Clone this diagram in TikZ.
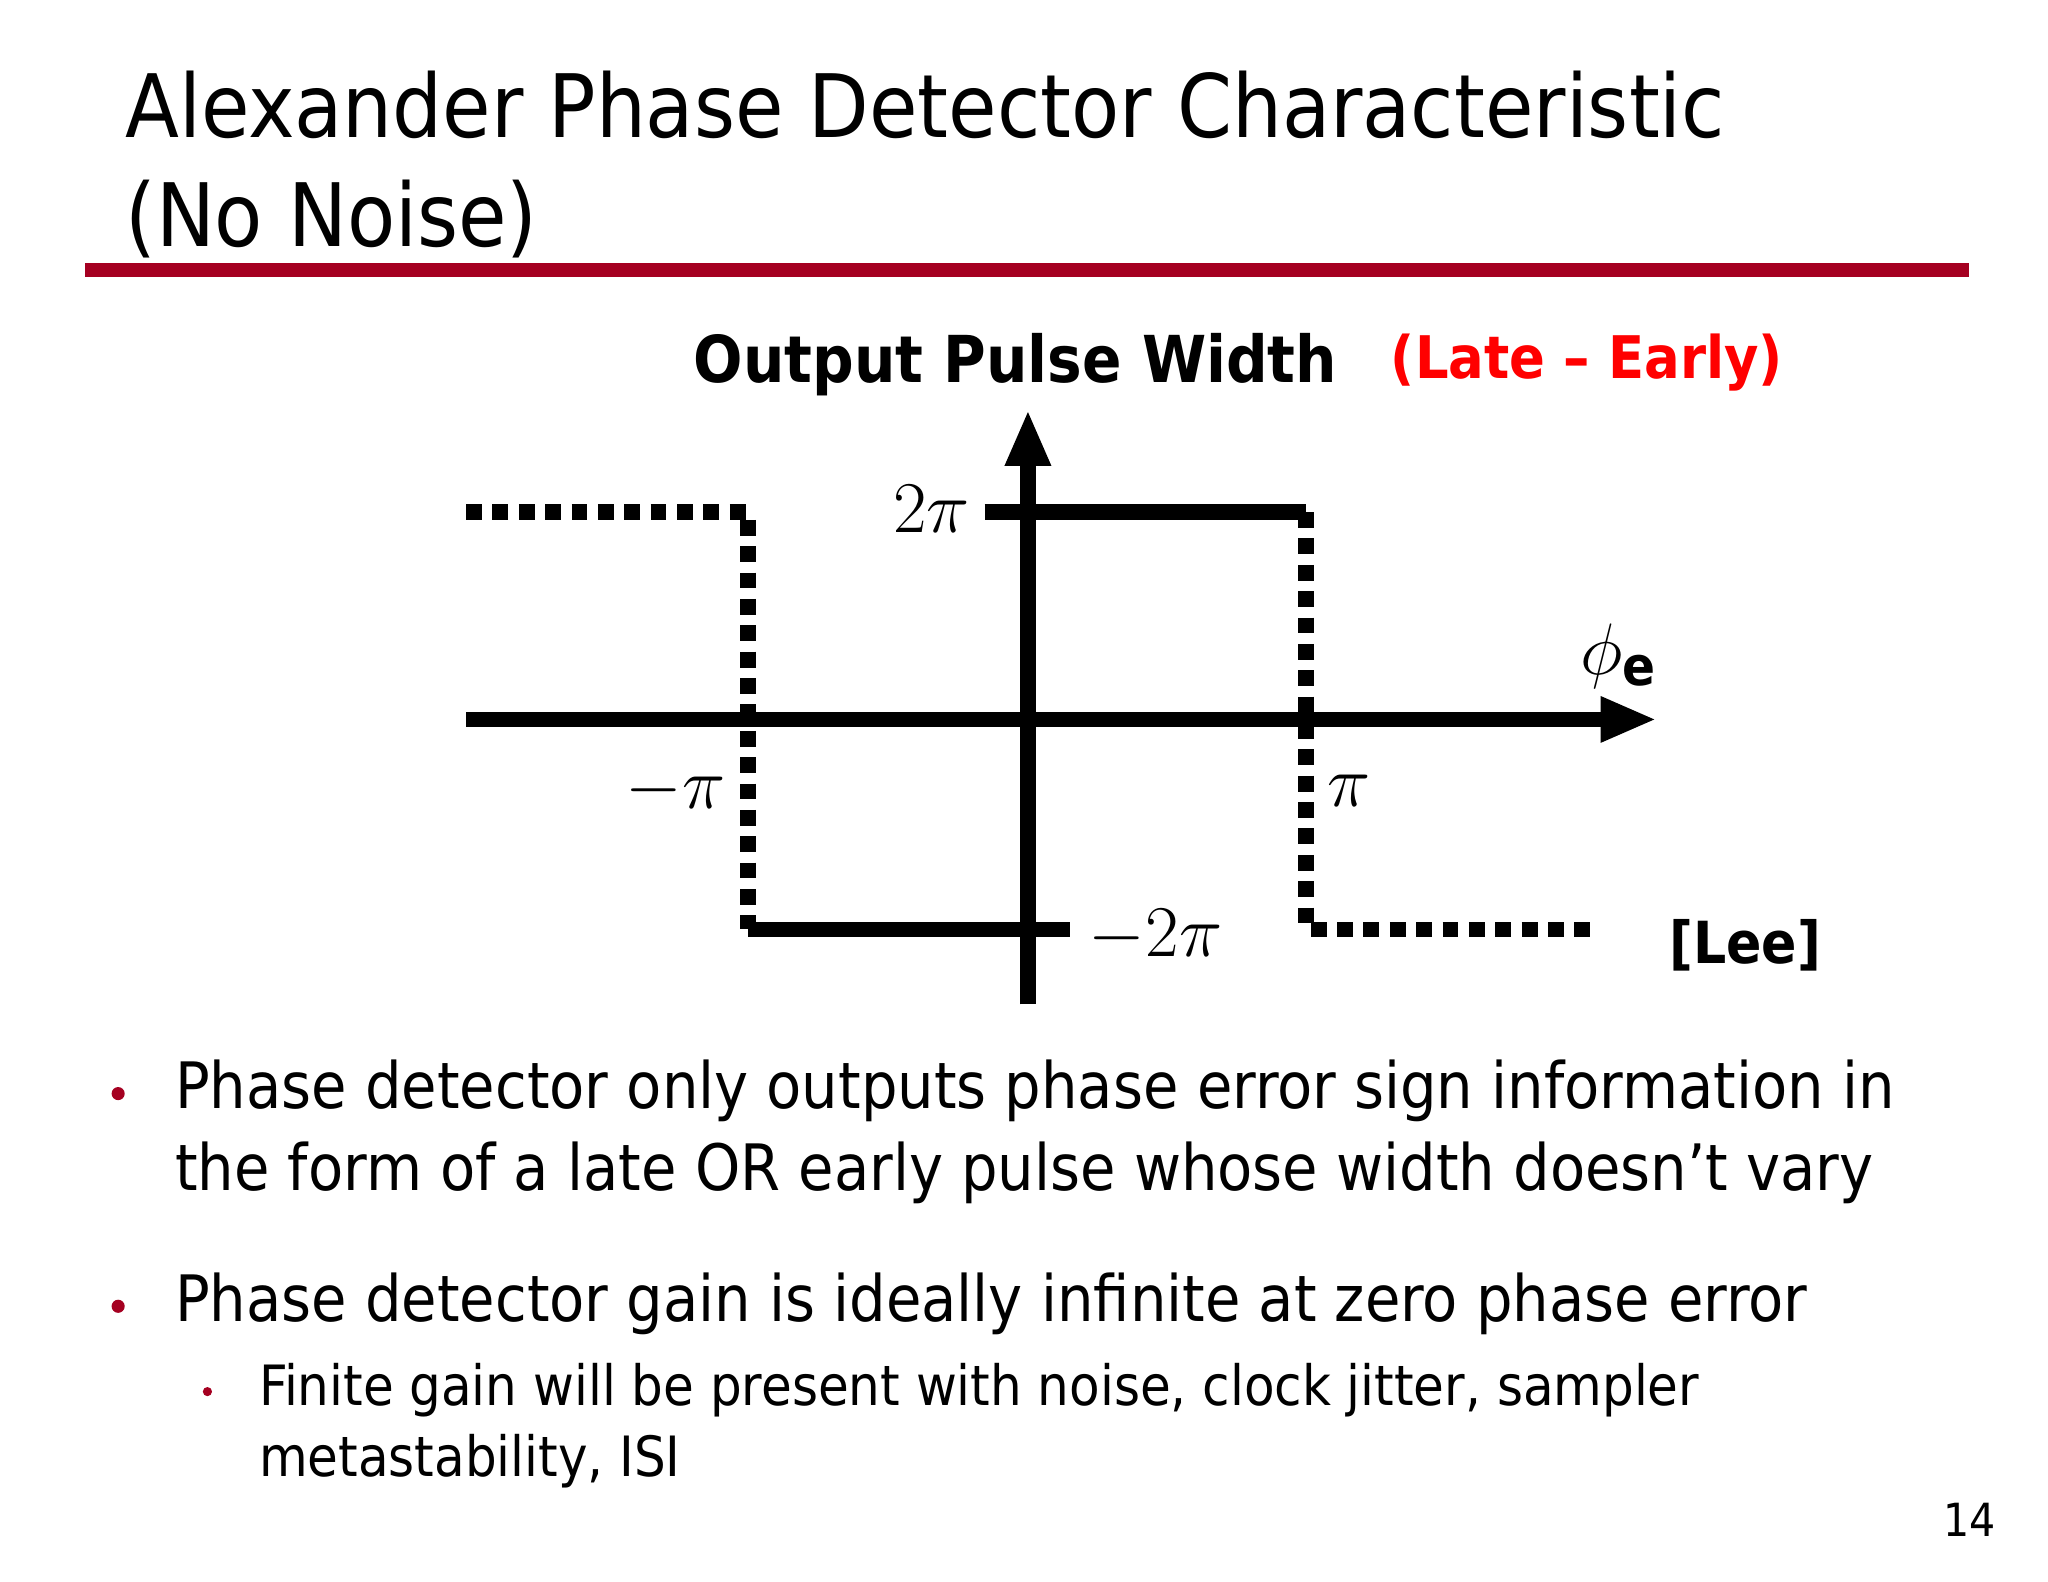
\documentclass[tikz,border=0pt]{standalone}
\usepackage{fontspec}
\setmainfont{DejaVu Sans Condensed}
\usetikzlibrary{arrows.meta}
\definecolor{slidered}{HTML}{A50021}
\tikzset{
  plotline/.style={line width=4.5pt},
  dashline/.style={line width=4.5pt, dash pattern=on 4.5pt off 3pt},
  axislabel/.style={font=\fontsize{22}{24}\selectfont},
  bodytext/.style={anchor=west, font=\fontsize{18.2}{23.5}\selectfont, align=left},
  subtext/.style={anchor=west, font=\fontsize{15.8}{20}\selectfont, align=left}
}
\begin{document}
\begin{tikzpicture}[x=0.013128cm, y=-0.013128cm]
\useasboundingbox (0,0) rectangle (1560,1205);
% title
\node[anchor=west, font=\fontsize{24.9}{31}\selectfont, align=left] (title) at (86,125) {Alexander Phase Detector Characteristic\\(No Noise)};
\fill[slidered] (65,200) rectangle (1500,211);
% axes
\coordinate (o) at (783,548);
\draw[plotline, -{Triangle[length=16pt, width=12pt]}] (355,548) -- (1262,548);
\draw[plotline, -{Triangle[length=16pt, width=12pt]}] (783,765) -- (783,312);
% characteristic
\draw[plotline] (750,390) -- (995,390);
\draw[plotline] (570,708) -- (815,708);
\draw[dashline] (355,390) -- (570,390) -- (570,708);
\draw[dashline] (995,390) -- (995,708) -- (1212,708);
% labels
\node[axislabel, anchor=east] (twopi) at (748,388) {$2\pi$};
\node[axislabel, anchor=west] (mtwopi) at (820,713) {$-2\pi$};
\node[axislabel, anchor=east] (mpi) at (562,602) {$-\pi$};
\node[axislabel, anchor=west] (pi) at (1002,602) {$\pi$};
\node[font=\fontsize{22}{24}\selectfont] (phie) at (1233,500) {$\phi_{\mathbf{e}}$};
\node[anchor=east, font=\bfseries\fontsize{18.4}{22}\selectfont] (ylab) at (1028,278) {Output Pulse Width};
\node[anchor=west, text=red, font=\bfseries\fontsize{16.7}{20}\selectfont] (le) at (1050,276) {(Late -- Early)};
\node[anchor=west, font=\bfseries\fontsize{16.5}{20}\selectfont] (lee) at (1262,720) {[Lee]};
% bullets
\fill[slidered] (90,833) circle (5);
\node[bodytext] (b1) at (124,862) {Phase detector only outputs phase error sign information in\\the form of a late OR early pulse whose width doesn’t vary};
\fill[slidered] (90,995) circle (5);
\node[bodytext] (b2) at (124,993) {Phase detector gain is ideally infinite at zero phase error};
\fill[slidered] (158,1060) circle (3.5);
\node[subtext] (s1) at (188,1086) {Finite gain will be present with noise, clock jitter, sampler\\metastability, ISI};
\node[font=\fontsize{13}{15}\selectfont] (page) at (1500,1158) {14};
\end{tikzpicture}
\end{document}
